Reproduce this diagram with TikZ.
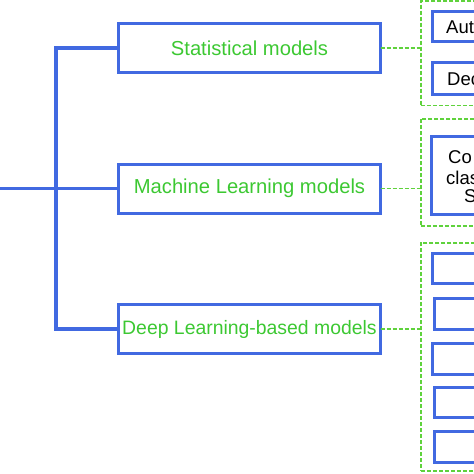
\documentclass[tikz,border=0pt]{standalone}
\usepackage{fontspec}
\setmainfont{Liberation Sans}
\definecolor{lineblue}{RGB}{65,105,225}
\definecolor{txtgreen}{RGB}{60,200,50}
\definecolor{dashgreen}{RGB}{95,210,60}
\begin{document}
\begin{tikzpicture}[x=1pt,y=-1pt,
  mainbox/.style={draw=lineblue, line width=3pt, minimum width=262pt, minimum height=49pt,
    inner sep=0pt, outer sep=0pt, font=\fontsize{20.2}{24}\selectfont, text=txtgreen},
  trunk/.style={draw=lineblue, line width=3.5pt, line join=miter},
  grpbox/.style={draw=dashgreen, line width=1.6pt, dash pattern=on 4pt off 2pt,
    anchor=north west, minimum width=120pt, inner sep=0pt, outer sep=0pt},
  dashconn/.style={draw=dashgreen, line width=1.6pt, dash pattern=on 4pt off 2pt},
  innerbox/.style={draw=lineblue, line width=3pt, anchor=north west, minimum width=100pt,
    inner sep=0pt, outer sep=0pt},
  frag/.style={anchor=west, inner sep=0pt, font=\fontsize{18.5}{20}\selectfont, text=black}
]
\useasboundingbox (0,0) rectangle (474,474);
\clip (0,0) rectangle (474,474);

% main boxes
\node[mainbox] (b1) at (249.5,48) {Statistical models};
\node[mainbox] (b2) at (249.5,188.5) {Machine Learning models};
\node[mainbox, font=\fontsize{19.4}{24}\selectfont] (b3) at (249.5,329) {Deep Learning-based models};

% trunk
\coordinate (root) at (0,188.5);
\coordinate (top) at (56,48);
\coordinate (mid) at (56,188.5);
\coordinate (bot) at (56,329);
\draw[trunk] (b1.west) -- (top) -- (bot) -- (b3.west);
\draw[trunk] (root) -- (mid) -- (b2.west);

% dashed groups
\node[grpbox, minimum height=104.5pt] (g1) at (420.75,1) {};
\node[grpbox, minimum height=107.5pt] (g2) at (420.75,118.75) {};
\node[grpbox, minimum height=228.5pt] (g3) at (420.75,242.75) {};

\draw[dashconn] (b1.east) -- (b1.east -| g1.west);
\draw[dashconn] (b2.east) -- (b2.east -| g2.west);
\draw[dashconn] (b3.east) -- (b3.east -| g3.west);

% group 1
\node[innerbox, minimum height=30pt] (s1) at (432.5,11.5) {};
\node[innerbox, minimum height=32pt] (s2) at (432.5,62.5) {};
\node[frag] (ts1) at (446,27) {Aut};
\node[frag] (ts2) at (447,79) {Dec};

% group 2
\node[innerbox, minimum height=78pt] (m1) at (431.5,136.5) {};
\node[frag] (tm1) at (448,157) {Co};
\node[frag] (tm2) at (446,178) {clas};
\node[frag] (tm3) at (464,196) {S};

% group 3
\node[innerbox, minimum height=30pt] (d1) at (432.5,253.5) {};
\node[innerbox, minimum height=31pt] (d2) at (434.5,298.5) {};
\node[innerbox, minimum height=31pt] (d3) at (432.5,343.5) {};
\node[innerbox, minimum height=30pt] (d4) at (434.5,387.5) {};
\node[innerbox, minimum height=31pt] (d5) at (434.5,431.5) {};
\end{tikzpicture}
\end{document}
